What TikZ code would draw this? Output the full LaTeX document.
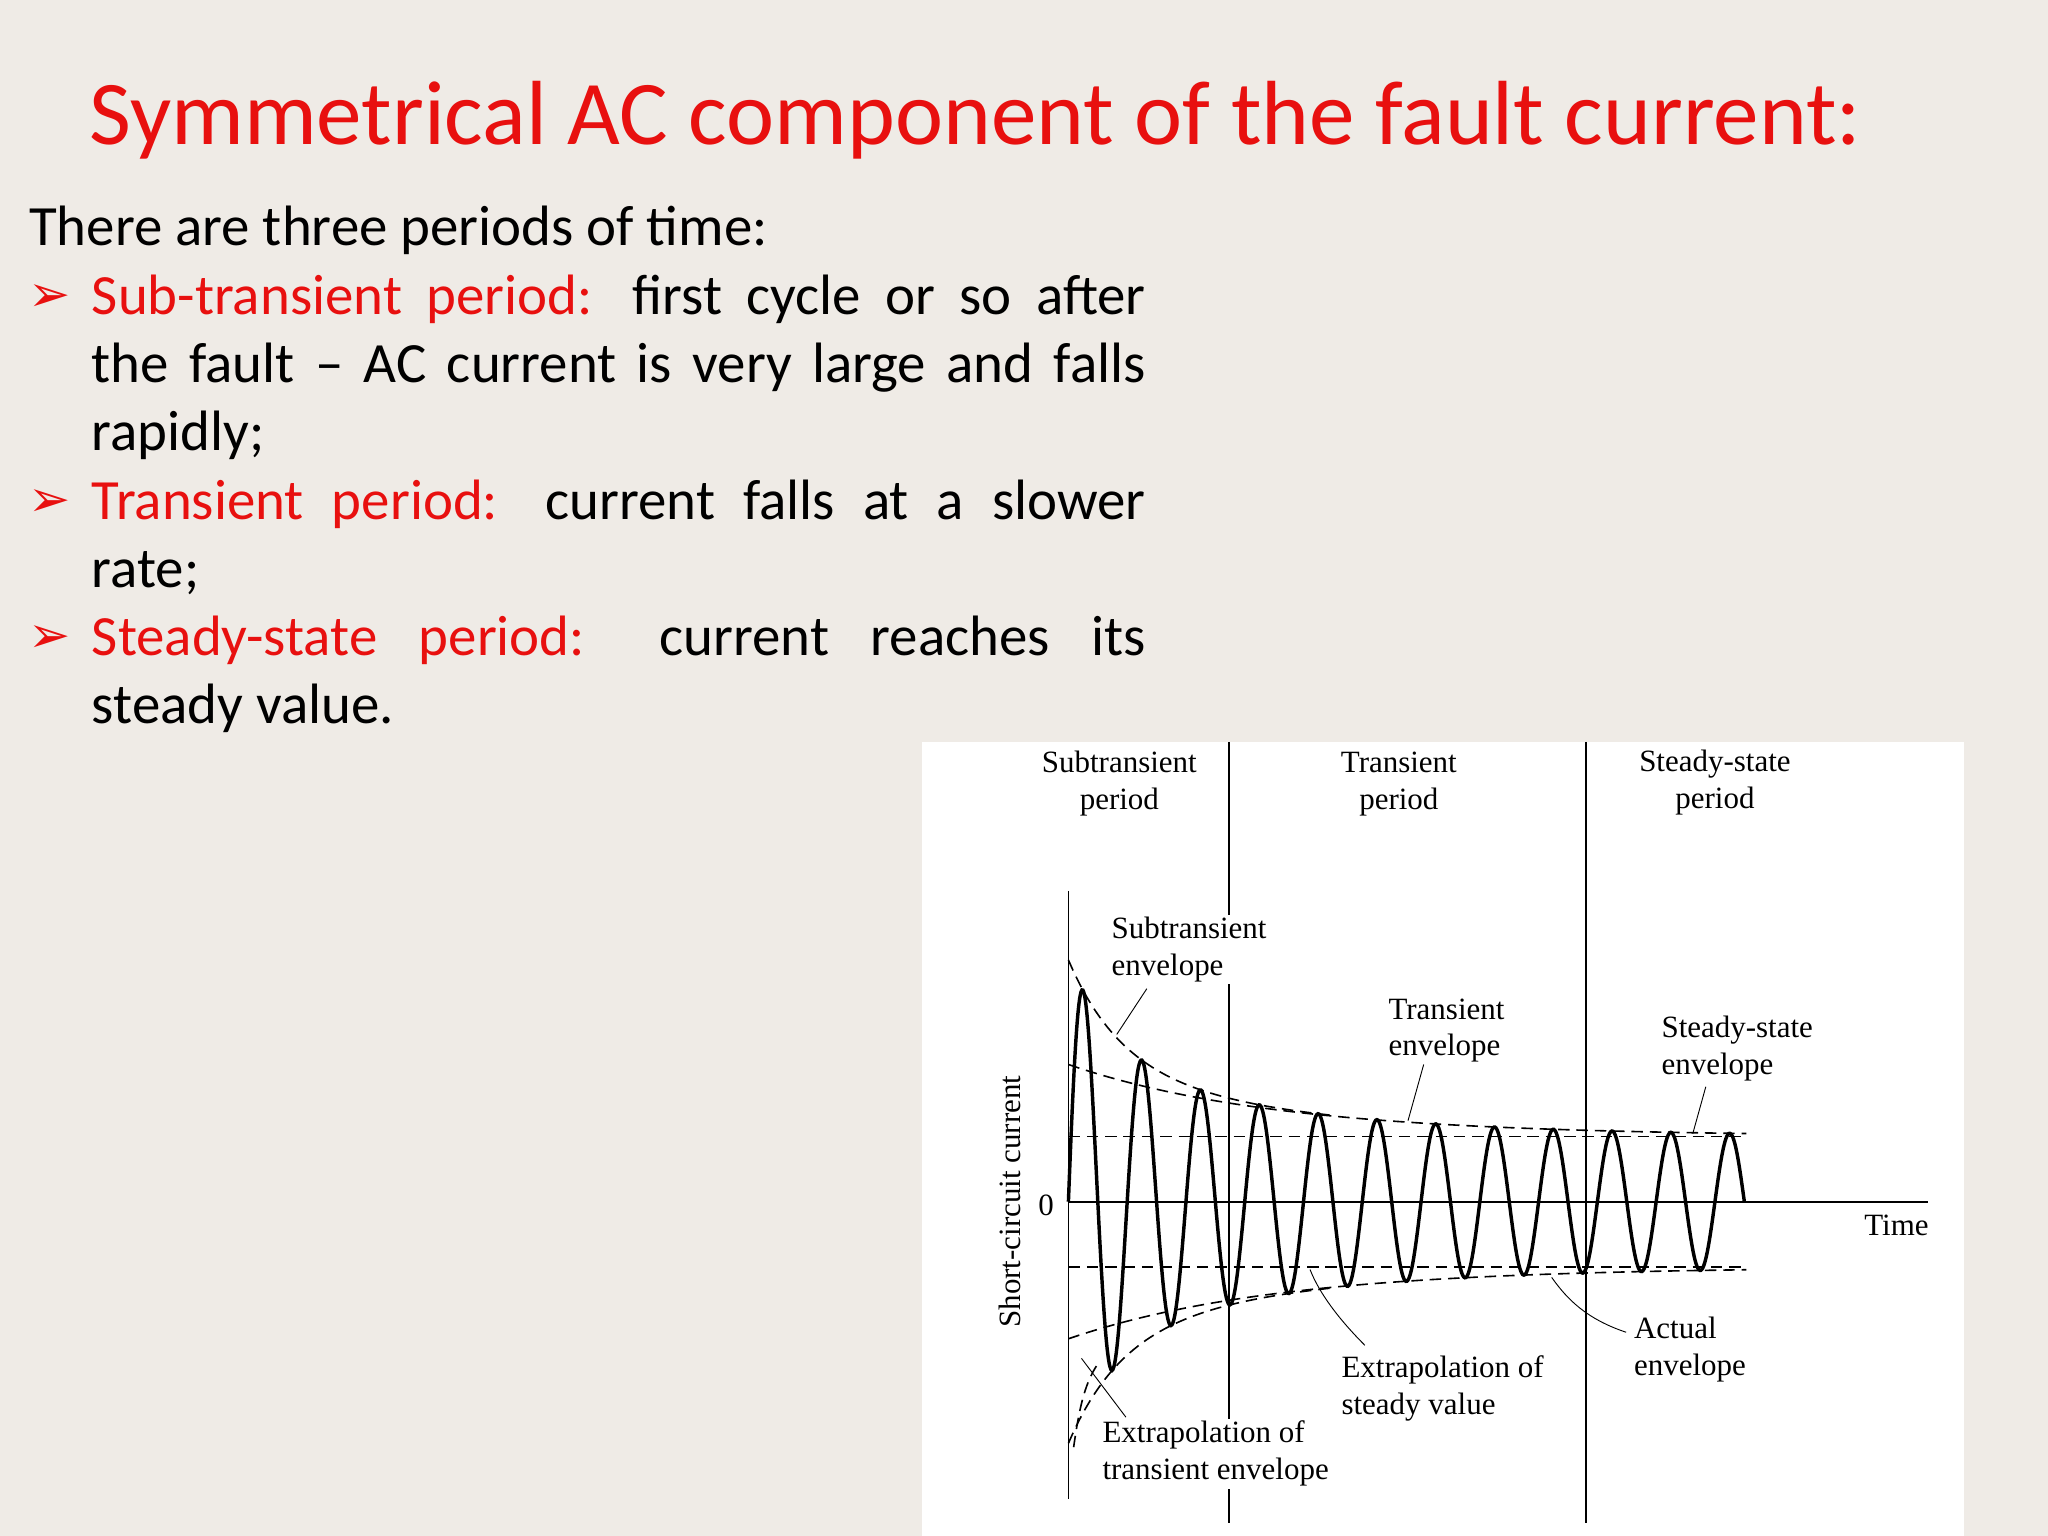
\documentclass[tikz,border=0pt]{standalone}
\usepackage{fontspec}
\setmainfont{Carlito}
\newfontfamily\ser{Liberation Serif}
\newfontfamily\dv{DejaVu Sans}
\definecolor{bg}{HTML}{EFEBE6}
\definecolor{rd}{HTML}{E8100F}
\begin{document}
\begin{tikzpicture}[x=0.02cm,y=-0.02cm,
  lbl/.style={font=\ser\fontsize{13.5}{16}\selectfont,align=center,inner sep=0},
  lbll/.style={lbl,align=left,anchor=west,fill=white,inner sep=1pt},
  env/.style={dashed,dash pattern=on 5pt off 3pt,line width=0.7pt},
  body/.style={anchor=north west,inner sep=0,text width=16.14cm,align=justify,font=\fontsize{24.8}{29.6}\selectfont},
  bul/.style={text=rd,font=\dv\fontsize{22}{24}\selectfont,inner sep=0}]
\fill[bg] (0,0) rectangle (1568,1176);
\useasboundingbox (0,0) rectangle (1568,1176);
\node[anchor=west,text=rd,font=\fontsize{39.7}{46}\selectfont,inner sep=0] (title) at (68,92) {Symmetrical AC component of the fault current:};
\node[anchor=west,inner sep=0,font=\fontsize{24.8}{29.6}\selectfont] (intro) at (22,176) {There are three periods of time:};
\node[bul] (b1) at (38,228) {➢};
\node[body] (t1) at (70,210) {\textcolor{rd}{Sub-transient period:} first cycle or so after\linebreak the fault -- AC current is very large and falls\linebreak rapidly;};
\node[bul] (b2) at (38,385) {➢};
\node[body] (t2) at (70,367) {\textcolor{rd}{Transient period:} current falls at a slower\linebreak rate;};
\node[bul] (b3) at (38,489) {➢};
\node[body] (t3) at (70,471) {\textcolor{rd}{Steady-state period:} current reaches its\linebreak steady value.};
% plot
\fill[white] (706,568) rectangle (1504,1176);
\draw[line width=0.8pt] (818,682) -- (818,1148);
\draw[line width=0.8pt] (818,920) -- (1476,920);
\draw[line width=0.8pt] (941,568) -- (941,1166);
\draw[line width=0.8pt] (1214,568) -- (1214,1166);
\draw[env] (818,870) -- (1337,870);
\draw[env] (818,970) -- (1337,970);
\draw[env] plot[domain=0:519,samples=80,smooth] ({818+\x},{920-(50+55*exp(-\x/160))});
\draw[env] plot[domain=0:519,samples=80,smooth] ({818+\x},{920+(50+55*exp(-\x/160))});
\draw[env] plot[domain=0:200,samples=60,smooth] ({818+\x},{920-(50+55*exp(-\x/160)+80*exp(-\x/40))});
\draw[env] plot[domain=0:200,samples=60,smooth] ({818+\x},{920+(50+55*exp(-\x/160)+80*exp(-\x/40))});
\draw[env] (822,1108) .. controls (826,1080) and (830,1060) .. (840,1045);
\draw[line width=1.5pt] plot[domain=0:517.5,samples=700,smooth] ({818+\x},{920-(50+55*exp(-\x/160)+80*exp(-\x/40))*sin(8*\x)});
% labels
\node[lbl] (lsp) at (857,600) {Subtransient\\period};
\node[lbl] (ltp) at (1071,600) {Transient\\period};
\node[lbl] (lssp) at (1313,599) {Steady-state\\period};
\node[lbll] (lse) at (849,727) {Subtransient\\envelope};
\node[lbll] (lte) at (1061,789) {Transient\\envelope};
\node[lbll] (lsse) at (1270,803) {Steady-state\\envelope};
\node[lbll] (lae) at (1249,1033) {Actual\\envelope};
\node[lbll] (les) at (1025,1063) {Extrapolation of\\steady value};
\node[lbll] (let) at (842,1113) {Extrapolation of\\transient envelope};
\node[lbl] (zero) at (801,923) {0};
\node[lbl] (time) at (1452,938) {Time};
\node[lbl,rotate=90] (ylab) at (773,920) {Short-circuit current};
\coordinate (p1) at (855,792); \coordinate (p2) at (1078,858);
\coordinate (p3) at (1296,868); \coordinate (p4) at (1188,978);
\coordinate (p5) at (1003,972); \coordinate (p6) at (828,1040);
\draw (878,757) -- (p1);
\draw (1090,815) -- (p2);
\draw (1306,832) -- (p3);
\draw (1245,1020) .. controls (1215,1010) and (1200,995) .. (p4);
\draw (1045,1030) .. controls (1025,1010) and (1010,990) .. (p5);
\draw (862,1085) -- (p6);
\end{tikzpicture}
\end{document}
